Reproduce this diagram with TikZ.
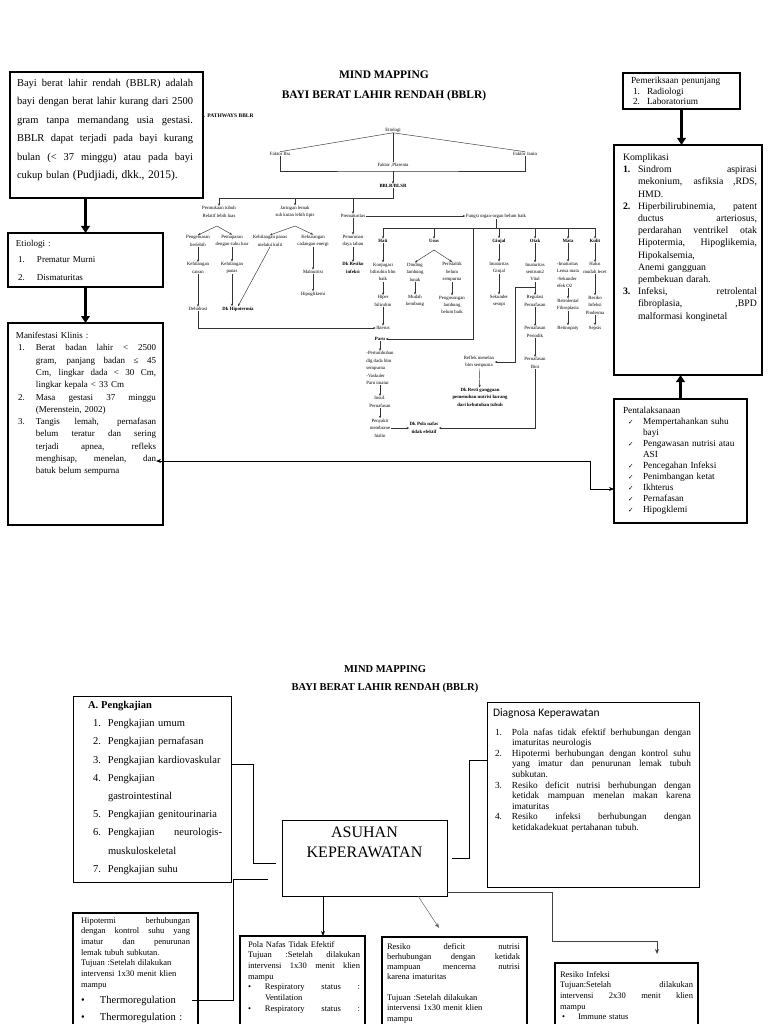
\documentclass[tikz,border=0pt]{standalone}
\usepackage{fontspec}
\setmainfont{Liberation Serif}
\newfontfamily\carl{Carlito}
\newfontfamily\djv{DejaVu Sans}
\usetikzlibrary{arrows.meta,calc}
\newcommand\JJ[2]{\leavevmode\hbox to #1{\spaceskip=.25em plus 1fil\xspaceskip=.25em plus 1fil\relax #2}}
\newcommand\NB[2]{\makebox[#1][l]{#2}}
\newcommand\ckm{{\djv\fontsize{6.5}{6.5}\selectfont ✓}}
\begin{document}
\begin{tikzpicture}[x=1pt,y=-1pt,
  bx/.style={draw, inner sep=0pt, outer sep=0pt, anchor=north west, line width=#1},
  tx/.style={anchor=base west, inner sep=0pt, outer sep=0pt, align=left},
  tarr/.style={line width=2.4pt, -{Triangle[length=7pt,width=8.5pt]}},
  parr/.style={draw=black!80, line width=0.45pt, -{Stealth[length=2.6pt,width=2.2pt]}},
  pln/.style={draw=black!80, line width=0.45pt},
  pw/.style={font=\fontsize{4.8}{7.4}\selectfont, align=center, inner sep=0.4pt},
  pwb/.style={font=\fontsize{4.8}{7.4}\selectfont\bfseries, align=center, inner sep=0.4pt},
  conn/.style={line width=1pt},
  carr/.style={line width=1pt, -{Stealth[length=5pt,width=4pt]}},
  ttl/.style={font=\fontsize{11.5}{12}\selectfont\bfseries, inner sep=0pt},
  ttlb/.style={font=\fontsize{10.5}{11}\selectfont\bfseries, inner sep=0pt}
]
\useasboundingbox (0,0) rectangle (768,1024);
\fill[white] (0,0) rectangle (768,1024);
\clip (0,0) rectangle (768,1024);

% ================= TOP PAGE =================
\node[ttl] (t1) at (384,75) {MIND MAPPING};
\node[ttl] (t2) at (384,96) {BAYI BERAT LAHIR RENDAH (BBLR)};
\node[anchor=west, inner sep=0pt, font=\fontsize{5.5}{6}\selectfont\bfseries] (pwt) at (204,116) {. PATHWAYS BBLR};

% boxes
\node[bx=1.5pt, minimum width=193pt, minimum height=126pt] (bblr) at (10,72) {};
\node[bx=1.8pt, minimum width=155pt, minimum height=54pt] (etio) at (8,233) {};
\node[bx=1.8pt, minimum width=155pt, minimum height=202pt] (mani) at (8,323) {};
\node[bx=1.4pt, minimum width=117pt, minimum height=36pt] (pem) at (623,73) {};
\node[bx=1.8pt, minimum width=148pt, minimum height=230pt] (kom) at (614,145) {};
\node[bx=1.8pt, minimum width=133pt, minimum height=124pt] (pen) at (614,399) {};

\node[tx, text width=176pt, font=\fontsize{10.5}{18.5}\selectfont] (bblr-t) at (17,86.5) {%
\JJ{176pt}{Bayi berat lahir rendah (BBLR) adalah}\\
\JJ{176pt}{bayi dengan berat lahir kurang dari 2500}\\
\JJ{176pt}{gram tanpa memandang usia gestasi.}\\
\JJ{176pt}{BBLR dapat terjadi pada bayi kurang}\\
\JJ{176pt}{bulan (< 37 minggu) atau pada bayi}\\
cukup bulan {\fontsize{11.5}{18.5}\selectfont (Pudjiadi, dkk., 2015).}};

\node[tx, text width=140pt, font=\fontsize{9}{17}\selectfont] (etio-t) at (16,246) {Etiologi :\\
\hspace*{2pt}\NB{19pt}{1.}Prematur Murni\\
\hspace*{2pt}\NB{19pt}{2.}Dismaturitas};

\node[tx, text width=142pt, font=\fontsize{9}{12.3}\selectfont] (mani-t) at (16,338.5) {Manifestasi Klinis :\\
\hspace*{2pt}\NB{18pt}{1.}\JJ{120pt}{Berat badan lahir < 2500}\\
\hspace*{20pt}\JJ{120pt}{gram, panjang badan ≤ 45}\\
\hspace*{20pt}\JJ{120pt}{Cm, lingkar dada < 30 Cm,}\\
\hspace*{20pt}lingkar kepala < 33 Cm\\
\hspace*{2pt}\NB{18pt}{2.}\JJ{120pt}{Masa gestasi 37 minggu}\\
\hspace*{20pt}(Merenstein, 2002)\\
\hspace*{2pt}\NB{18pt}{3.}\JJ{120pt}{Tangis lemah, pernafasan}\\
\hspace*{20pt}\JJ{120pt}{belum teratur dan sering}\\
\hspace*{20pt}\JJ{120pt}{terjadi apnea, refleks}\\
\hspace*{20pt}\JJ{120pt}{menghisap, menelan, dan}\\
\hspace*{20pt}batuk belum sempurna};

\node[tx, text width=112pt, font=\fontsize{9.3}{10.3}\selectfont] (pem-t) at (631,84) {Pemeriksaan penunjang\\
\hspace*{2pt}\NB{14pt}{1.}Radiologi\\
\hspace*{2pt}\NB{14pt}{2.}Laboratorium};

\node[tx, text width=138pt, font=\fontsize{9.8}{12.2}\selectfont] (kom-t) at (623,160.5) {Komplikasi\\
\NB{15pt}{\textbf{1.}}\JJ{119pt}{Sindrom aspirasi}\\
\hspace*{15pt}\JJ{119pt}{mekonium, asfiksia ,RDS,}\\
\hspace*{15pt}HMD.\\
\NB{15pt}{\textbf{2.}}\JJ{119pt}{Hiperbilirubinemia, patent}\\
\hspace*{15pt}\JJ{119pt}{ductus arteriosus,}\\
\hspace*{15pt}\JJ{119pt}{perdarahan ventrikel otak}\\
\hspace*{15pt}\JJ{119pt}{Hipotermia, Hipoglikemia,}\\
\hspace*{15pt}Hipokalsemia,\\
\hspace*{15pt}Anemi gangguan\\
\hspace*{15pt}pembekuan darah.\\
\NB{15pt}{\textbf{3.}}\JJ{119pt}{Infeksi, retrolental}\\
\hspace*{15pt}\JJ{119pt}{fibroplasia, ,BPD}\\
\hspace*{15pt}malformasi konginetal};

\node[tx, text width=125pt, font=\fontsize{9.3}{11}\selectfont] (pen-t) at (623,413) {Pentalaksanaan\\
\hspace*{5pt}\NB{15pt}{\ckm}Mempertahankan suhu\\
\hspace*{20pt}bayi\\
\hspace*{5pt}\NB{15pt}{\ckm}Pengawasan nutrisi atau\\
\hspace*{20pt}ASI\\
\hspace*{5pt}\NB{15pt}{\ckm}Pencegahan Infeksi\\
\hspace*{5pt}\NB{15pt}{\ckm}Penimbangan ketat\\
\hspace*{5pt}\NB{15pt}{\ckm}Ikhterus\\
\hspace*{5pt}\NB{15pt}{\ckm}Pernafasan\\
\hspace*{5pt}\NB{15pt}{\ckm}Hipogklemi};

% thick connectors
\draw[tarr] (etio.north |- bblr.south) -- (etio.north);
\draw[tarr] (mani.north |- etio.south) -- (mani.north);
\draw[tarr] (pem.south) -- (pem.south |- kom.north);
\draw[tarr] (pen.north) -- (pen.north |- kom.south);
\coordinate (mk) at (156,461);
\coordinate (c1) at (590,461);
\coordinate (c2) at (590,489);
\draw[line width=0.8pt, {Stealth[length=5pt,width=4pt]}-{Stealth[length=5pt,width=4pt]}] (mk) -- (c1) -- (c2) -- (c2 -| pen.west);

% ---------------- pathway ----------------
\node[pw] (et) at (393,130) {Etiologi};
\node[pw] (fibu) at (280,154) {Faktor Ibu};
\node[pw] (fjan) at (525,154) {Faktor Janin};
\node[pw] (fpla) at (393,165) {Faktor ,Plasenta};
\node[pwb] (bl) at (393,186) {BBLR/BLSR};
\node[pw] (pmk) at (219,212) {Permukaan tubuh\\Relatif lebih luas};
\node[pw] (jlk) at (295,212) {Jaringan lemak\\sub kutan lebih tipis};
\node[pw] (prem) at (353,216) {Prematuritas};
\node[pw] (fung) at (496,216) {Fungsi organ-organ belum baik};
\node[pw] (peng) at (198,241) {Pengeluaran\\berlebih};
\node[pw] (pmp) at (232,241) {Pemaparan\\dengan suhu luar};
\node[pw] (khp) at (270,241) {Kehilangan panas\\melalui kulit};
\node[pw] (kce) at (313,241) {Kekurangan\\cadangan energi};
\node[pw] (pdt) at (353,241) {Penurunan\\daya tahan};
\node[pw] (kc) at (198,268) {Kehilangan\\cairan};
\node[pw] (kp) at (232,268) {Kehilangan\\panas};
\node[pw] (mal) at (313,272) {Malnutrisi};
\node[pw] (hpg) at (313,294) {Hipoglikemi};
\node[pwb] (dkri) at (353,268) {Dk Resiko\\infeksi};
\node[pw] (deh) at (198,309) {Dehidrasi};
\node[pwb] (dkh) at (238,309) {Dk Hipotermia};

\node[pwb] (hati) at (383,241) {Hati};
\node[pwb] (usus) at (434,241) {Usus};
\node[pwb] (ginjal) at (499,241) {Ginjal};
\node[pwb] (otak) at (535,241) {Otak};
\node[pwb] (mata) at (568,241) {Mata};
\node[pwb] (kulit) at (595,241) {Kulit};

\node[pw] (konj) at (383,272) {Konjugasi\\bilirubin blm\\baik};
\node[pw] (ding) at (415,272) {Dinding\\lambung\\lunak};
\node[pw] (peri) at (452,272) {Peristaltik\\belum\\sempurna};
\node[pw] (ig) at (499,268) {Imaturitas\\Ginjal};
\node[pw] (isv) at (535,272) {Imaturitas\\sentrum2\\Vital};
\node[pw, align=left] (il) at (568,275) {-Imaturitas\\Lensa mata\\-Sekunder\\efek O2};
\node[pw] (hml) at (595,268) {Halus\\mudah lecet};

\node[pw] (hiper) at (383,301) {Hiper\\bilirubin};
\node[pw] (mk2) at (415,301) {Mudah\\kembung};
\node[pw] (pl) at (452,305) {Pengosongan\\lambung\\belum baik};
\node[pw] (sek) at (499,301) {Sekunder\\sesopi};
\node[pw] (rp) at (535,301) {Regulasi\\Pernafasan};
\node[pw] (rf) at (568,305) {Retrolental\\Fibroplasia};
\node[pw] (rip) at (595,305) {Resiko\\Infeksi\\Pioderma};

\node[pw] (ikt) at (383,328) {Ikterus};
\node[pw] (pp) at (535,332) {Pernafasan\\Periodik};
\node[pw] (ret) at (568,328) {Retinopaty};
\node[pw] (sep) at (595,328) {Sepsis};

\node[pwb] (paru) at (380,339) {Paru};
\node[pw, align=left] (pert) at (380,368) {-Pertumbuhan\\dlg dada blm\\sempurna\\-Vaskuler\\Paru imatur};
\node[pw] (ins) at (380,402) {Insuf.\\Pernafasan};
\node[pw] (pmh) at (380,428) {Penyakit\\membrane\\hialin};
\node[pwb] (dkpn) at (424,428) {Dk Pola nafas\\tidak efektif};
\node[pw] (rm) at (479,362) {Reflek menelan\\blm sempurna};
\node[pwb] (dkr) at (480,397) {Dk Resti gangguan\\pemenuhan nutrisi kurang\\dari kebutuhan tubuh};
\node[pw] (pbiot) at (535,363) {Pernafasan\\Biot};

% pathway connectors
\draw[pln] (et.south) -- (fibu.north);
\draw[pln] (et.south) -- (fjan.north);
\draw[pln] (et.south) -- (fpla.north);
\coordinate (hf) at (393,171);
\draw[pln] (fibu.south) |- (hf) -| (fjan.south);
\draw[parr] (hf) -- (bl.north);
\coordinate (hb) at (219,198);
\draw[pln] (bl.south) |- (hb);
\draw[parr] (hb) -- (pmk.north);
\draw[parr] (jlk.north |- hb) -- (jlk.north);
\draw[parr] (prem.north |- hb) -- (prem.north);
\draw[parr] (prem.east) -- (fung.west);
\coordinate (ho) at (383,228);
\draw[pln] (ho) -- (kulit.north |- ho);
\draw[pln] (fung.south) -- (fung.south |- ho);
\foreach \o in {hati,usus,ginjal,otak,mata,kulit}
  \draw[parr] (\o.north |- ho) -- (\o.north);

\coordinate (pk1) at (217,226);
\draw[parr] (pk1) -- (peng.north);
\draw[parr] (pk1) -- (pmp.north);
\coordinate (pk2) at (295,226);
\draw[parr] (pk2) -- (khp.north);
\draw[parr] (pk2) -- (kce.north);
\coordinate (pk3) at (434,250);
\draw[parr] (pk3) -- (ding.north);
\draw[parr] (pk3) -- (peri.north);

\draw[parr] (peng) -- (kc);
\draw[parr] (kc) -- (deh);
\draw[parr] (pmp) -- (kp);
\draw[parr] (kp.south) -- (kp.south |- dkh.north);
\draw[parr] (khp.south) -- (dkh.north);
\draw[parr] (kce) -- (mal);
\draw[parr] (mal) -- (hpg);
\draw[parr] (prem) -- (pdt);
\draw[parr] (pdt) -- (dkri);
\draw[parr] (deh.south) |- (ikt.west);
\draw[parr] (hati) -- (konj);
\draw[parr] (konj) -- (hiper);
\draw[parr] (hiper) -- (ikt);
\draw[parr] (ding) -- (mk2);
\draw[parr] (peri) -- (pl);
\draw[parr] (ginjal) -- (ig);
\draw[parr] (ig) -- (sek);
\draw[parr] (otak) -- (isv);
\draw[parr] (isv) -- (rp);
\draw[parr] (rp) -- (pp);
\draw[parr] (pp) -- (pbiot);
\draw[parr] (mata) -- (il);
\draw[parr] (il) -- (rf);
\draw[parr] (rf) -- (ret);
\draw[parr] (kulit) -- (hml);
\draw[parr] (hml) -- (rip);
\draw[parr] (rip) -- (sep);
\coordinate (v1) at (473,228);
\draw[parr] (v1) |- (paru.east);
\draw[parr] (paru) -- (pert);
\draw[parr] (pert) -- (ins);
\draw[parr] (ins) -- (pmh);
\draw[parr] (pmh) -- (dkpn);
\coordinate (br1) at (535,287);
\coordinate (br2) at (515,287);
\draw[pln] (br1) -- (br2);
\draw[parr] (br2) |- (rm.east);
\draw[parr] (rm) -- (dkr);
\draw[parr] (pbiot.south) |- (dkpn.east);

% ================= BOTTOM PAGE =================
\node[ttlb] (t3) at (385,669) {MIND MAPPING};
\node[ttlb] (t4) at (385,688) {BAYI BERAT LAHIR RENDAH (BBLR)};

\node[bx=0.9pt, minimum width=158pt, minimum height=186pt] (pk) at (73,696) {};
\node[bx=0.9pt, minimum width=165pt, minimum height=76pt] (asuh) at (282,820) {};
\node[bx=0.9pt, minimum width=212pt, minimum height=185pt] (diag) at (487,702) {};
\node[bx=1.5pt, minimum width=125pt, minimum height=130pt] (hipo) at (73,913) {};
\node[bx=1.8pt, minimum width=125pt, minimum height=120pt] (pola) at (240,936) {};
\node[bx=1.8pt, minimum width=145pt, minimum height=120pt] (resd) at (382,937) {};
\node[bx=1.8pt, minimum width=143pt, minimum height=100pt] (resi) at (555,963) {};

\node[tx, text width=150pt, font=\fontsize{10.5}{18.2}\selectfont] (pk-t) at (88,708.5) {\textbf{A.\hspace{3pt}Pengkajian}\\
\hspace*{5pt}\NB{15pt}{1.}Pengkajian umum\\
\hspace*{5pt}\NB{15pt}{2.}Pengkajian pernafasan\\
\hspace*{5pt}\NB{15pt}{3.}Pengkajian kardiovaskular\\
\hspace*{5pt}\NB{15pt}{4.}Pengkajian\\
\hspace*{20pt}gastrointestinal\\
\hspace*{5pt}\NB{15pt}{5.}Pengkajian genitourinaria\\
\hspace*{5pt}\NB{15pt}{6.}\JJ{114pt}{Pengkajian neurologis-}\\
\hspace*{20pt}muskuloskeletal\\
\hspace*{5pt}\NB{15pt}{7.}Pengkajian suhu};

\node[anchor=base, inner sep=0pt, text width=160pt, align=center, font=\fontsize{16}{20}\selectfont] (as-t) at (364.5,837.5) {ASUHAN\\KEPERAWATAN};

\node[tx, font=\carl\fontsize{11.5}{12}\selectfont] (dg-title) at (493,716) {Diagnosa Keperawatan};
\node[tx, text width=200pt, font=\fontsize{9.3}{10.6}\selectfont] (dg-t) at (495,735) {%
\NB{17pt}{1.}\JJ{179pt}{Pola nafas tidak efektif berhubungan dengan}\\
\hspace*{17pt}imaturitas neurologis\\
\NB{17pt}{2.}\JJ{179pt}{Hipotermi berhubungan dengan kontrol suhu}\\
\hspace*{17pt}\JJ{179pt}{yang imatur dan penurunan lemak tubuh}\\
\hspace*{17pt}subkutan.\\
\NB{17pt}{3.}\JJ{179pt}{Resiko deficit nutrisi berhubungan dengan}\\
\hspace*{17pt}\JJ{179pt}{ketidak mampuan menelan makan karena}\\
\hspace*{17pt}imaturitas\\
\NB{17pt}{4.}\JJ{179pt}{Resiko infeksi berhubungan dengan}\\
\hspace*{17pt}ketidakadekuat pertahanan tubuh.};

\node[tx, text width=112pt, font=\fontsize{8.5}{10.7}\selectfont] (hp-t) at (81,923) {%
\JJ{109pt}{Hipotermi berhubungan}\\
\JJ{109pt}{dengan kontrol suhu yang}\\
\JJ{109pt}{imatur dan penurunan}\\
lemak tubuh subkutan.\\
Tujuan :Setelah dilakukan\\
intervensi 1x30 menit klien\\
mampu};
\node[tx, text width=115pt, font=\fontsize{10.5}{17}\selectfont] (hp-b) at (81,1003) {%
\NB{19pt}{\textbullet}Thermoregulation\\
\NB{19pt}{\textbullet}Thermoregulation :};

\node[tx, text width=115pt, font=\fontsize{8.5}{10.7}\selectfont] (pn-t) at (248,947) {%
Pola Nafas Tidak Efektif\\
\JJ{112pt}{Tujuan :Setelah dilakukan}\\
\JJ{112pt}{intervensi 1x30 menit klien}\\
mampu\\
\NB{17pt}{\textbullet}\JJ{95pt}{Respiratory status :}\\
\hspace*{17pt}Ventilation\\
\NB{17pt}{\textbullet}\JJ{95pt}{Respiratory status :}};

\node[tx, text width=135pt, font=\fontsize{8.5}{10.3}\selectfont] (rd-t) at (387,949) {%
\JJ{133pt}{Resiko deficit nutrisi}\\
\JJ{133pt}{berhubungan dengan ketidak}\\
\JJ{133pt}{mampuan mencerna nutrisi}\\
karena imaturitas\\
\mbox{}\\
Tujuan :Setelah dilakukan\\
intervensi 1x30 menit klien\\
mampu};

\node[tx, text width=135pt, font=\fontsize{8.5}{10.7}\selectfont] (ri-t) at (560,977) {%
Resiko Infeksi\\
\JJ{133pt}{Tujuan:Setelah dilakukan}\\
\JJ{133pt}{intervensi 2x30 menit klien}\\
mampu\\
\hspace*{2pt}\NB{16pt}{\textbullet}Immune status};

% bottom connectors
\coordinate (a1) at (253,764);
\coordinate (a2) at (276,863);
\draw[conn] (a1 -| pk.east) -- (a1) |- (a2);
\coordinate (b1) at (469,760);
\coordinate (b2) at (452,858);
\draw[conn] (b1 -| diag.west) -- (b1) |- (b2);
\coordinate (e1) at (323,0);
\draw[carr] (asuh.south -| e1) -- (pola.north -| e1);
\coordinate (f1) at (418,0);
\coordinate (f2) at (439,928);
\draw[line width=0.5pt, draw=black!60, -{Stealth[length=5pt,width=4pt]}] (asuh.south -| f1) -- (f2);
\coordinate (d1) at (552,892);
\coordinate (d2) at (657,941);
\draw[line width=1pt, draw=black!75, -{Stealth[length=5pt,width=4pt]}, shorten >=9pt] (d1 -| asuh.east) -- (d1) |- (d2) -- (d2 |- resi.north);
\coordinate (g1) at (192,1000);
\coordinate (g2) at (233,879);
\coordinate (g3) at (268,879);
\draw[conn] (g1) -| (g2) -- (g3);
\end{tikzpicture}
\end{document}
